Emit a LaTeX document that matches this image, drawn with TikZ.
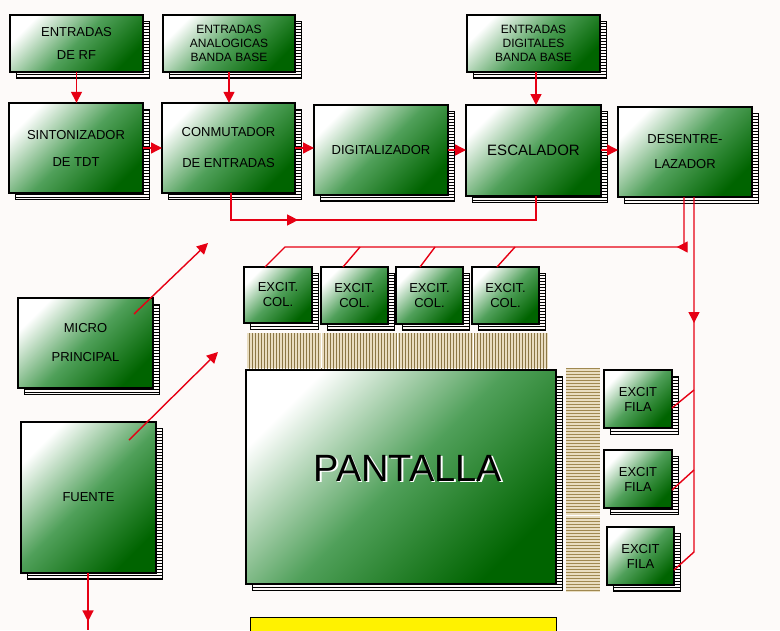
\documentclass[tikz,border=0pt]{standalone}
\usepackage{fontspec}
\setmainfont{Liberation Sans}
\usetikzlibrary{arrows.meta,decorations.markings,patterns}
\definecolor{dg}{RGB}{0,100,0}
\definecolor{mg}{RGB}{80,160,90}
\definecolor{bg}{RGB}{253,250,249}
\definecolor{tan}{RGB}{200,170,100}
\definecolor{rl}{RGB}{230,0,20}
\tikzset{
  sh/.style={pattern=horizontal lines,pattern color=black,draw=black},
  bx/.style={draw=black,line width=1.2pt,left color=white,right color=dg,middle color=mg,shading angle=45},
  lbl/.style={font=\fontsize{13}{15}\selectfont,align=center},
  lbs/.style={font=\fontsize{12}{14}\selectfont,align=center},
  wire/.style={draw=rl,line width=1.4pt},
  tip/.style={-{Triangle[length=11pt,width=11pt]}},
  midtip/.style={postaction={decorate},decoration={markings,mark=at position #1 with {\arrow{Triangle[length=11pt,width=11pt]}}}}
}
\newcommand{\gbox}[7][lbl]{% style, name, x1,y1,x2,y2, text
  \fill[sh] (#3+6,#4+6) rectangle (#5+6,#6+6);
  \draw[bx] (#3,#4) rectangle (#5,#6);
  \node[#1] (#2) at ({(#3+#5)/2},{(#4+#6)/2}) [minimum width={#5-#3},minimum height={#6-#4}] {#7};
}
\begin{document}
\begin{tikzpicture}[x=1pt,y=-1pt]
\fill[bg] (0,0) rectangle (780,630);
\useasboundingbox (0,0) rectangle (780,630);
\gbox{rf}{10}{15}{143}{72}{ENTRADAS\\[8pt]DE RF}
\gbox[lbs]{ana}{163}{15}{295}{72}{ENTRADAS\\ANALOGICAS\\BANDA BASE}
\gbox[lbs]{dig}{467}{15}{600}{72}{ENTRADAS\\DIGITALES\\BANDA BASE}
\gbox{sin}{9}{103}{143}{193}{SINTONIZADOR\\[12pt]DE TDT}
\gbox{con}{162}{103}{295}{193}{CONMUTADOR\\[16pt]DE ENTRADAS}
\gbox{dgz}{314}{105}{448}{195}{DIGITALIZADOR}
\gbox{esc}{466}{105}{601}{196}{\fontsize{15}{17}\selectfont ESCALADOR}
\gbox{des}{618}{107}{752}{197}{DESENTRE-\\[10pt]LAZADOR}
\gbox{mic}{18}{298}{153}{388}{MICRO\\[14pt]PRINCIPAL}
\gbox{fue}{21}{422}{156}{573}{FUENTE}
\gbox{c1}{244}{267}{312}{323}{EXCIT.\\COL.}
\gbox{c2}{321}{267}{388}{324}{EXCIT.\\COL.}
\gbox{c3}{396}{267}{463}{324}{EXCIT.\\COL.}
\gbox{c4}{472}{267}{539}{324}{EXCIT.\\COL.}
\gbox{f1}{604}{370}{672}{428}{EXCIT\\FILA}
\gbox{f2}{604}{450}{672}{508}{EXCIT\\FILA}
\gbox{f3}{607}{527}{674}{585}{EXCIT\\FILA}
% connectors strips
\fill[tan!40] (247,333) rectangle (548,368);
\fill[pattern=vertical lines,pattern color=tan!70!black] (247,333) rectangle (548,368);
\draw[white,line width=1pt] (321,333)--(321,368) (397,333)--(397,368) (473,333)--(473,368);
\fill[tan!40] (566,368) rectangle (600,592);
\fill[pattern=horizontal lines,pattern color=tan!80!black] (566,368) rectangle (600,592);
\draw[white,line width=1pt] (566,515)--(600,515);
% pantalla
\fill[sh] (252,376) rectangle (562,590);
\draw[bx] (246,370) rectangle (556,584);
\node[font=\fontsize{38}{38}\selectfont,text=white] at (409.5,469.5) {PANTALLA};
\node[font=\fontsize{38}{38}\selectfont] (pan) at (408,468) {PANTALLA};
% yellow
\draw[fill=yellow,line width=0.8pt] (250,617) rectangle (556,635);
% wires
\draw[wire,tip] (rf.south) -- (rf.south |- sin.north);
\draw[wire,tip] (ana.south) -- (ana.south |- con.north);
\draw[wire,tip] (536,72) -- (536,105);
\draw[wire,tip] (143,148) -- (162,148);
\draw[wire,tip] (295,148) -- (314,148);
\draw[wire,tip] (448,150) -- (466,150);
\draw[wire,tip] (601,150) -- (618,150);
\draw[wire,midtip=0.52] (231,193) -- (231,220) -- (385,220);
\draw[wire] (380,220) -- (536,220) -- (536,196);
\draw[wire,midtip=0.12] (684,197) -- (684,247) -- (285,247) -- (265,267);
\draw[wire] (360,247) -- (343,267) (435,247) -- (420,267) (515,247) -- (497,267);
\draw[wire,midtip=0.33] (694,197) -- (694,552) -- (674,570);
\draw[wire] (694,390) -- (672,408) (694,470) -- (672,490);
\draw[wire,tip] (134,314) -- (208,243);
\draw[wire,tip] (129,440) -- (218,352);
\draw[wire,midtip=0.85] (88,573) -- (88,630);
\end{tikzpicture}
\end{document}
